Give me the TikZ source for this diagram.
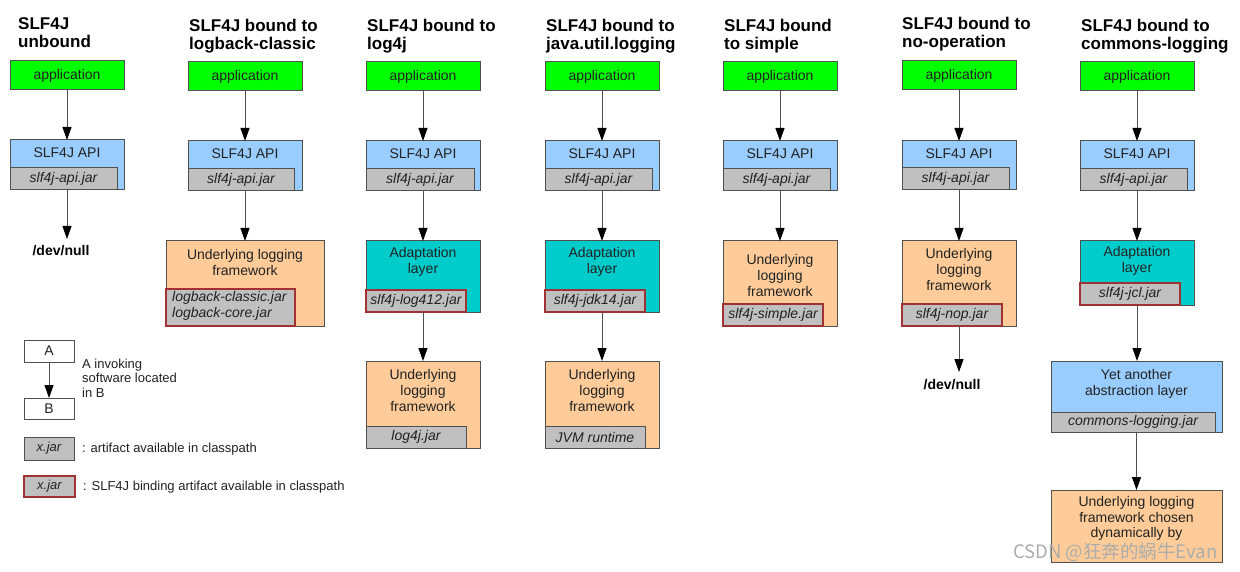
\documentclass[tikz,border=0pt]{standalone}
\usepackage{fontspec}
\setmainfont{Liberation Sans}
\newfontfamily\cjkfont{Noto Sans CJK SC}
\usetikzlibrary{arrows.meta}
\definecolor{appc}{HTML}{00FF00}
\definecolor{apic}{HTML}{99CCFF}
\definecolor{jarc}{HTML}{C0C0C0}
\definecolor{orc}{HTML}{FFCC99}
\definecolor{cyc}{HTML}{00CCCC}
\definecolor{redc}{HTML}{A03232}
\definecolor{bordc}{HTML}{505050}
\definecolor{txtc}{HTML}{222222}
\definecolor{shaftc}{HTML}{505050}
\newcommand\fsz{\fontsize{14}{16}\selectfont}
\newcommand\fsl{\fontsize{13}{14.5}\selectfont}
\newcommand\fst{\fontsize{17}{19}\selectfont\bfseries}
\tikzset{
  box/.style={draw=bordc, line width=1pt, inner sep=0pt, outer sep=0pt, anchor=north west, font=\fsz, text=txtc},
  jarbox/.style={box, fill=jarc, anchor=south west, font=\fsz\itshape},
  redjar/.style={jarbox, draw=redc, line width=1.3pt},
  txt/.style={inner sep=0pt, align=center, font=\fsz, text=txtc},
  ttl/.style={inner sep=0pt, anchor=base west, font=\fst, text=black},
  devtxt/.style={inner sep=0pt, font=\fsz\bfseries, text=black},
  arr/.style={draw=shaftc, line width=1pt, -{Triangle[length=13pt,width=9pt,color=black]}},
}
\begin{document}
\begin{tikzpicture}[x=1pt,y=-1pt]
\useasboundingbox (0,0) rectangle (1240,572);
\fill[white] (0,0) rectangle (1240,572);

% ---------- titles ----------
\node[ttl] (t1a) at (18,30) {SLF4J};
\node[ttl] (t1b) at (18,48) {unbound};
\node[ttl] (t2a) at (189,32) {SLF4J bound to};
\node[ttl] (t2b) at (189,50) {logback-classic};
\node[ttl] (t3a) at (367,32) {SLF4J bound to};
\node[ttl] (t3b) at (367,50) {log4j};
\node[ttl] (t4a) at (546,32) {SLF4J bound to};
\node[ttl] (t4b) at (546,50) {java.util.logging};
\node[ttl] (t5a) at (724,32) {SLF4J bound};
\node[ttl] (t5b) at (724,50) {to simple};
\node[ttl] (t6a) at (902,30) {SLF4J bound to};
\node[ttl] (t6b) at (902,48) {no-operation};
\node[ttl] (t7a) at (1081,32) {SLF4J bound to};
\node[ttl] (t7b) at (1081,50) {commons-logging};

% ---------- column 1 ----------
\node[box, fill=appc, minimum width=114pt, minimum height=29pt] (app1) at (10,61) {application};
\node[box, fill=apic, minimum width=114pt, minimum height=50pt] (api1) at (10,140) {};
\node[txt] (api1t) at (67,153) {SLF4J API};
\node[jarbox, minimum width=107pt, minimum height=22pt] (jar1) at (api1.south west) {slf4j-api.jar};
\node[devtxt] (dev1) at (61,251) {/dev/null};
\coordinate (dev1top) at (67,239);
\draw[arr] (app1) -- (api1);
\draw[arr] (api1.south) -- (dev1top);

% ---------- column 2 ----------
\node[box, fill=appc, minimum width=114pt, minimum height=29pt] (app2) at (188,62) {application};
\node[box, fill=apic, minimum width=114pt, minimum height=50pt] (api2) at (188,141) {};
\node[txt] (api2t) at (245,154) {SLF4J API};
\node[jarbox, minimum width=106pt, minimum height=22pt] (jar2) at (api2.south west) {slf4j-api.jar};
\node[box, fill=orc, minimum width=158pt, minimum height=85pt] (und2) at (166,241) {};
\node[txt] (und2t) at (245,262) {Underlying logging\\framework};
\node[redjar, minimum width=129pt, minimum height=37pt] (jar2b) at (und2.south west) {};
\node[txt, align=left, anchor=west, font=\fsz\itshape] (jar2bt) at (172,306) {logback-classic.jar\\logback-core.jar};
\draw[arr] (app2) -- (api2);
\draw[arr] (api2) -- (und2);

% ---------- column 3 ----------
\node[box, fill=appc, minimum width=114pt, minimum height=29pt] (app3) at (366,62) {application};
\node[box, fill=apic, minimum width=114pt, minimum height=50pt] (api3) at (366,141) {};
\node[txt] (api3t) at (423,154) {SLF4J API};
\node[jarbox, minimum width=108pt, minimum height=22pt] (jar3) at (api3.south west) {slf4j-api.jar};
\node[box, fill=cyc, minimum width=114pt, minimum height=71pt] (ada3) at (366,241) {};
\node[txt] (ada3t) at (423,262) {Adaptation\\layer};
\node[redjar, minimum width=100pt, minimum height=22pt] (jar3b) at (ada3.south west) {slf4j-log412.jar};
\node[box, fill=orc, minimum width=114pt, minimum height=87pt] (und3) at (366,361) {};
\node[txt] (und3t) at (423,390) {Underlying\\logging\\framework};
\node[jarbox, minimum width=100pt, minimum height=22pt] (jar3c) at (und3.south west) {log4j.jar};
\draw[arr] (app3) -- (api3);
\draw[arr] (api3) -- (ada3);
\draw[arr] (ada3) -- (und3);

% ---------- column 4 ----------
\node[box, fill=appc, minimum width=114pt, minimum height=29pt] (app4) at (545,62) {application};
\node[box, fill=apic, minimum width=114pt, minimum height=50pt] (api4) at (545,141) {};
\node[txt] (api4t) at (602,154) {SLF4J API};
\node[jarbox, minimum width=107pt, minimum height=22pt] (jar4) at (api4.south west) {slf4j-api.jar};
\node[box, fill=cyc, minimum width=114pt, minimum height=71pt] (ada4) at (545,241) {};
\node[txt] (ada4t) at (602,262) {Adaptation\\layer};
\node[redjar, minimum width=100pt, minimum height=22pt] (jar4b) at (ada4.south west) {slf4j-jdk14.jar};
\node[box, fill=orc, minimum width=114pt, minimum height=87pt] (und4) at (545,361) {};
\node[txt] (und4t) at (602,390) {Underlying\\logging\\framework};
\node[jarbox, minimum width=100pt, minimum height=22pt] (jar4c) at (und4.south west) {JVM runtime};
\draw[arr] (app4) -- (api4);
\draw[arr] (api4) -- (ada4);
\draw[arr] (ada4) -- (und4);

% ---------- column 5 ----------
\node[box, fill=appc, minimum width=114pt, minimum height=29pt] (app5) at (723,62) {application};
\node[box, fill=apic, minimum width=114pt, minimum height=50pt] (api5) at (723,141) {};
\node[txt] (api5t) at (780,154) {SLF4J API};
\node[jarbox, minimum width=107pt, minimum height=22pt] (jar5) at (api5.south west) {slf4j-api.jar};
\node[box, fill=orc, minimum width=114pt, minimum height=85pt] (und5) at (723,241) {};
\node[txt] (und5t) at (780,275) {Underlying\\logging\\framework};
\node[redjar, minimum width=100pt, minimum height=22pt] (jar5b) at (und5.south west) {slf4j-simple.jar};
\draw[arr] (app5) -- (api5);
\draw[arr] (api5) -- (und5);

% ---------- column 6 ----------
\node[box, fill=appc, minimum width=114pt, minimum height=29pt] (app6) at (902,61) {application};
\node[box, fill=apic, minimum width=114pt, minimum height=49pt] (api6) at (902,141) {};
\node[txt] (api6t) at (959,154) {SLF4J API};
\node[jarbox, minimum width=107pt, minimum height=22pt] (jar6) at (api6.south west) {slf4j-api.jar};
\node[box, fill=orc, minimum width=114pt, minimum height=85pt] (und6) at (902,241) {};
\node[txt] (und6t) at (959,269) {Underlying\\logging\\framework};
\node[redjar, minimum width=100pt, minimum height=22pt] (jar6b) at (und6.south west) {slf4j-nop.jar};
\node[devtxt] (dev6) at (952,385) {/dev/null};
\coordinate (dev6top) at (959,372);
\draw[arr] (app6) -- (api6);
\draw[arr] (api6) -- (und6);
\draw[arr] (und6.south) -- (dev6top);

% ---------- column 7 ----------
\node[box, fill=appc, minimum width=114pt, minimum height=29pt] (app7) at (1080,62) {application};
\node[box, fill=apic, minimum width=114pt, minimum height=50pt] (api7) at (1080,141) {};
\node[txt] (api7t) at (1137,154) {SLF4J API};
\node[jarbox, minimum width=107pt, minimum height=22pt] (jar7) at (api7.south west) {slf4j-api.jar};
\node[box, fill=cyc, minimum width=114pt, minimum height=64pt] (ada7) at (1080,241) {};
\node[txt] (ada7t) at (1137,260.5) {Adaptation\\layer};
\node[redjar, minimum width=100pt, minimum height=22pt] (jar7b) at (ada7.south west) {slf4j-jcl.jar};
\node[box, fill=apic, minimum width=171pt, minimum height=71pt] (yet7) at (1051,361) {};
\node[txt] (yet7t) at (1136.5,384) {Yet another\\abstraction layer};
\node[jarbox, minimum width=164pt, minimum height=20pt] (jar7c) at (yet7.south west) {commons-logging.jar};
\node[box, fill=orc, minimum width=171pt, minimum height=72pt] (und7) at (1051,490) {};
\node[txt, font=\fontsize{14}{15.7}\selectfont] (und7t) at (1136.5,518.5) {Underlying logging\\framework chosen\\dynamically by};
\draw[arr] (app7) -- (api7);
\draw[arr] (api7) -- (ada7);
\draw[arr] (ada7.south) -- (ada7.south |- yet7.north);
\draw[arr] (yet7) -- (und7);

% ---------- legend ----------
\node[box, fill=white, minimum width=50pt, minimum height=22pt] (lA) at (24,340) {A};
\node[box, fill=white, minimum width=50pt, minimum height=21pt] (lB) at (24,398) {B};
\draw[arr] (lA) -- (lB);
\node[txt, align=left, anchor=west, font=\fsl] (lAt) at (82,378) {A invoking\\software located\\in B};
\node[box, fill=jarc, font=\fsl\itshape, minimum width=50pt, minimum height=23pt] (lx1) at (24,437) {x.jar};
\node[txt, anchor=west, font=\fsl] (lx1t) at (82,449) {: artifact available in classpath};
\node[box, fill=jarc, draw=redc, line width=1.3pt, font=\fsl\itshape, minimum width=51pt, minimum height=21pt] (lx2) at (24,476) {x.jar};
\node[txt, anchor=west, font=\fsl] (lx2t) at (83,487) {: SLF4J binding artifact available in classpath};

% ---------- watermark ----------
\node[inner sep=0pt, anchor=west, font=\fontsize{18.5}{18.5}\cjkfont, text=gray!65] (wm) at (1013,552) {CSDN @狂奔的蜗牛Evan};
\end{tikzpicture}
\end{document}
